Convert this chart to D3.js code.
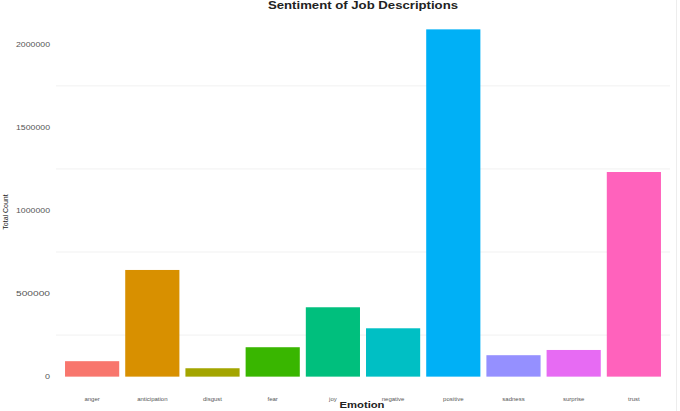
<!DOCTYPE html>
<html>
<head>
<meta charset="utf-8">
<script src="https://cdn.jsdelivr.net/npm/d3@7"></script>
<style>
  body { margin: 0; background: #fff; }
  svg { display: block; font-family: "Liberation Sans", Arial, sans-serif; }
</style>
</head>
<body>
<div id="chart"></div>
<script>
// Emotion counts
const emotions = ["anger", "anticipation", "disgust", "fear", "joy", "negative",
                  "positive", "sadness", "surprise", "trust"];
const counts = [93000, 642000, 50500, 177000, 417500, 291000,
                2090000, 129000, 160500, 1231500];
const colors = ["#F8766D", "#D89000", "#A3A500", "#39B600", "#00BF7D", "#00BFC4",
                "#00B0F6", "#9590FF", "#E76BF3", "#FF62BC"];
const yTicks = [0, 500000, 1000000, 1500000, 2000000];
const yMinor = [250000, 750000, 1250000, 1750000];

const width = 680;
const height = 411;
const margin = { top: 12, right: 10, bottom: 17, left: 56 };

const svg = d3.select("#chart")
  .append("svg")
  .attr("width", width)
  .attr("height", height);

// ggplot-like 5% expansion of the continuous axis
const maxVal = d3.max(counts);
const pad = maxVal * 0.05;

const x = d3.scaleBand()
  .domain(emotions)
  .range([margin.left, width - margin.right])
  .paddingInner(0.1)
  .paddingOuter(0.15);

const y = d3.scaleLinear()
  .domain([-pad, maxVal + pad])
  .range([height - margin.bottom, margin.top]);

// faint right edge
svg.append("rect")
  .attr("x", width - 4)
  .attr("y", 0)
  .attr("width", 1)
  .attr("height", height)
  .attr("fill", "#ededed");

// minor gridlines
svg.append("g")
  .selectAll("line")
  .data(yMinor)
  .join("line")
  .attr("x1", margin.left)
  .attr("x2", width - margin.right)
  .attr("y1", d => y(d))
  .attr("y2", d => y(d))
  .attr("stroke", "#f1f1f1")
  .attr("stroke-width", 1);

// bars
svg.append("g")
  .selectAll("rect")
  .data(emotions)
  .join("rect")
  .attr("x", d => x(d))
  .attr("width", x.bandwidth())
  .attr("y", (d, i) => y(counts[i]))
  .attr("height", (d, i) => y(0) - y(counts[i]))
  .attr("fill", (d, i) => colors[i]);

// y axis labels
const yAxis = svg.append("g")
  .attr("transform", `translate(${margin.left - 6},0)`)
  .call(d3.axisLeft(y).tickValues(yTicks).tickSize(0).tickFormat(d3.format("d")));
yAxis.select(".domain").remove();
yAxis.selectAll("text")
  .attr("x", 0)
  .attr("fill", "#555")
  .style("font-size", "6.5px")
  .attr("textLength", d => d === 0 ? 5 : 34)
  .attr("lengthAdjust", "spacingAndGlyphs");

// x axis labels
const xAxis = svg.append("g")
  .attr("transform", `translate(0,${height - margin.bottom})`)
  .call(d3.axisBottom(x).tickSize(0));
xAxis.select(".domain").remove();
xAxis.selectAll("text")
  .attr("y", 3)
  .attr("fill", "#555")
  .style("font-size", "6px");

// titles
svg.append("text")
  .attr("x", 363)
  .attr("y", 9)
  .attr("text-anchor", "middle")
  .attr("fill", "#222")
  .style("font-size", "10.5px")
  .style("font-weight", "bold")
  .attr("textLength", 190)
  .attr("lengthAdjust", "spacingAndGlyphs")
  .text("Sentiment of Job Descriptions");

svg.append("text")
  .attr("x", 362)
  .attr("y", 408)
  .attr("text-anchor", "middle")
  .attr("fill", "#222")
  .style("font-size", "8.5px")
  .style("font-weight", "bold")
  .attr("textLength", 45)
  .attr("lengthAdjust", "spacingAndGlyphs")
  .text("Emotion");

svg.append("text")
  .attr("transform", "translate(8,212) rotate(-90)")
  .attr("text-anchor", "middle")
  .attr("fill", "#222")
  .style("font-size", "7px")
  .text("Total Count");
</script>
</body>
</html>
